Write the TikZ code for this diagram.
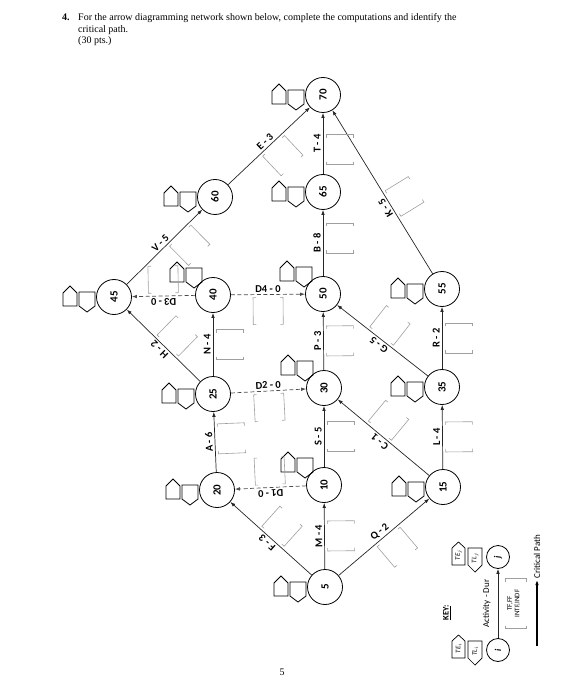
\documentclass[tikz,border=0pt]{standalone}
\usepackage{fontspec}
\setmainfont{Liberation Serif}
\setsansfont{Carlito}
\usetikzlibrary{arrows.meta}
\tikzset{
  >={Latex[length=5pt,width=3.6pt]},
  line/.style={line width=0.7pt, draw=black!85},
  dummy/.style={line, dash pattern=on 4pt off 2.5pt, draw=black!70},
  event/.style={draw, circle, line width=0.8pt, minimum size=35pt, inner sep=0pt,
    rotate=90, font=\sffamily\bfseries\fontsize{11}{11}\selectfont},
  kevent/.style={event, minimum size=23pt, font=\sffamily\bfseries\itshape\fontsize{9}{9}\selectfont},
  lab/.style={sloped, allow upside down, above=2pt, inner sep=0pt,
    font=\sffamily\bfseries\fontsize{10.5}{10.5}\selectfont},
  title/.style={inner sep=0pt, font=\fontsize{10}{11}\selectfont},
  note/.style={inner sep=0pt, rotate=90, font=\sffamily\fontsize{9}{9}\selectfont},
  pics/brk/.style={code={
    \draw[-, solid, gray!75, line width=0.6pt]
      (-12,-3) -- (-15,-3) -- (-15,-30) -- (-12,-30)
      (12,-3) -- (15,-3) -- (15,-30) -- (12,-30);
  }},
  pics/kbrk/.style={code={
    \draw[-, solid, gray!75, line width=0.6pt]
      (-22,-7) -- (-25,-7) -- (-25,-28) -- (-22,-28)
      (22,-7) -- (25,-7) -- (25,-28) -- (22,-28);
  }},
  pics/tetl/.style={code={
    \draw[line width=0.8pt]
      (-51,-9) -- (-51,4) -- (-44,11) -- (-37,4) -- (-37,-9) -- cycle
      (-35,5) -- (-35,-9) -- (-27,-15) -- (-19,-9) -- (-19,5) -- cycle;
  }},
  pics/ktetl/.style={code={
    \draw[line width=0.7pt]
      (-46,-8) -- (-46,9) -- (-39.5,15) -- (-33,9) -- (-33,-8) -- cycle
      (-30,9) -- (-30,-8) -- (-23,-15) -- (-16,-8) -- (-16,9) -- cycle;
    \node[rotate=90, inner sep=0pt, font=\sffamily\itshape\fontsize{7}{7}\selectfont] (-te) at (-39.5,2) {TE$_#1$};
    \node[rotate=90, inner sep=0pt, font=\sffamily\itshape\fontsize{7}{7}\selectfont] (-tl) at (-23,-1) {TL$_#1$};
  }}
}

\begin{document}
\begin{tikzpicture}[x=1pt,y=1pt]
  \useasboundingbox (0,0) rectangle (565,-700);

  % Question text
  \node[title, anchor=base west] (qno) at (62,-21) {\textbf{4.}};
  \node[title, anchor=base west] (q1) at (78,-21) {For the arrow diagramming network shown below, complete the computations and identify the};
  \node[title, anchor=base west] (q2) at (78,-33) {critical path.};
  \node[title, anchor=base west] (q3) at (78,-44) {(30 pts.)};

  % Events
  \foreach \n/\x/\y in {5/325/587, 10/324/485, 15/443/487, 20/217/490, 25/213/394,
      30/324/388, 35/442/387, 40/213/295, 45/114/297, 50/323/294, 55/442/289,
      60/215/197, 65/323/192, 70/323/95}
    \node[event] (n\n) at (\x,-\y) {\n};

  % TE / TL boxes
  \foreach \n in {5,15,20,25,35,45,55,60,65,70}
    \pic at (n\n) {tetl};
  \foreach \n in {10,30,40,50}
    \pic at ([shift={(8,22)}]n\n.center) {tetl};

  % Activities
  \foreach \a/\b/\t/\p in {5/10/M - 4/.5, 5/20/F - 3/.5, 5/15/Q - 2/.5, 10/30/S - 5/.5,
      20/25/A - 6/.5, 25/40/N - 4/.5, 25/45/H - 2/.5, 15/30/C - 1/.5, 15/35/L - 4/.5,
      30/50/P - 3/.5, 35/50/G - 5/.5, 35/55/R - 2/.5, 45/60/V - 5/.5, 60/70/E - 3/.5,
      50/65/B - 8/.5, 65/70/T - 4/.5, 55/70/K - 5/.42}
    \draw[line, ->] (n\a) -- node[lab, pos=\p] {\t} (n\b);

  % Dummies
  \foreach \a/\b/\t in {10/20/D1 - 0, 25/30/D2 - 0, 40/45/D3 - 0, 40/50/D4 - 0}
    \draw[dummy, ->] (n\a) -- node[lab] {\t} (n\b);

  % Brackets
  \foreach \a/\b/\p in {5/10/.5, 5/20/.5, 5/15/.53, 10/30/.5, 20/25/.55, 25/40/.5,
      25/45/.47, 15/30/.56, 15/35/.5, 30/50/.5, 35/50/.53, 35/55/.5, 45/60/.68,
      60/70/.53, 50/65/.57, 65/70/.4, 55/70/.42, 10/20/.5, 25/30/.5, 40/45/.5, 40/50/.5}
    \path (n\a) -- (n\b) pic[pos=\p, sloped, allow upside down] {brk};

  % Key
  \node[note, font=\sffamily\bfseries\fontsize{8.5}{8.5}\selectfont] (key) at (447,-613) {\underline{KEY:}};
  \node[kevent] (ki) at (498,-650) {i};
  \node[kevent] (kj) at (498,-557) {j};
  \pic (kpi) at (ki) {ktetl=i};
  \pic (kpj) at (kj) {ktetl=j};
  \draw[line, ->] (ki) -- node[sloped, above=7pt, inner sep=0pt, font=\sffamily\fontsize{9}{9}\selectfont] (kad) {Activity - Dur}
    node[sloped, below=9pt, inner sep=0pt, align=center, font=\sffamily\fontsize{7}{7.5}\selectfont] (kfl) {TF,FF\\INTF,INDF} (kj);
  \path (ki) -- (kj) pic[pos=.5, sloped] {kbrk};
  \coordinate (cpa) at (537,-646);
  \node[note, anchor=west, inner sep=1.5pt] (cpt) at (537,-580) {Critical Path};
  \draw[line width=1.3pt, ->] (cpa) -- (cpt.west);

  % Page number
  \node[title] (pg) at (282,-672) {5};
\end{tikzpicture}
\end{document}
